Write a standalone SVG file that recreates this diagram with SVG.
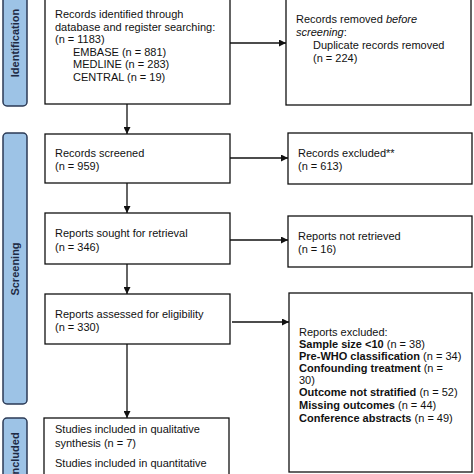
<svg xmlns="http://www.w3.org/2000/svg" width="474" height="474" viewBox="0 0 474 474">
<style>
.box{fill:#fff;stroke:#111;stroke-width:1.3}
.side{fill:#9dc3e6;stroke:#2b3a55;stroke-width:1.5}
.lbl{font-family:"Liberation Sans",Arial,sans-serif;font-size:11px;font-weight:bold;fill:#1e2a44;text-anchor:middle}
.t{font-family:"Liberation Sans",Arial,sans-serif;font-size:11px;fill:#111}
.b{font-weight:bold}
.con{stroke:#111;stroke-width:1.3;fill:none}
</style>
<defs>
<marker id="ah" viewBox="0 0 10 10" refX="10" refY="5" markerWidth="7" markerHeight="7" markerUnits="userSpaceOnUse" orient="auto">
<path d="M0,0 L10,5 L0,10 z" fill="#111"/>
</marker>
</defs>
<rect width="474" height="474" fill="#fff"/>
<g id="side-identification">
<rect class="side" x="3" y="-12" width="24" height="118" rx="4"/>
<text class="lbl" transform="translate(18.5,43) rotate(-90)">Identification</text>
</g>
<g id="side-screening">
<rect class="side" x="3" y="133" width="24" height="271" rx="4"/>
<text class="lbl" transform="translate(18.5,269) rotate(-90)">Screening</text>
</g>
<g id="side-included">
<rect class="side" x="3" y="418" width="24" height="70" rx="4"/>
<text class="lbl" transform="translate(18.5,455) rotate(-90)">Included</text>
</g>
<g id="identified">
<rect class="box" x="45" y="-5" width="185" height="109"/>
<text class="t" x="55" y="17.5">Records identified through</text>
<text class="t" x="55" y="30.5">database and register searching:</text>
<text class="t" x="55" y="43">(n = 1183)</text>
<text class="t" x="73" y="55.5">EMBASE (n = 881)</text>
<text class="t" x="73" y="68">MEDLINE (n = 283)</text>
<text class="t" x="73" y="80.5">CENTRAL (n = 19)</text>
</g>
<g id="removed">
<rect class="box" x="286" y="-5" width="185" height="110"/>
<text class="t" x="296" y="23">Records removed <tspan font-style="italic">before</tspan></text>
<text class="t" x="296" y="36"><tspan font-style="italic">screening</tspan>:</text>
<text class="t" x="313" y="49">Duplicate records removed</text>
<text class="t" x="313" y="62">(n = 224)</text>
</g>
<g id="screened">
<rect class="box" x="45" y="134" width="185" height="49"/>
<text class="t" x="55" y="157">Records screened</text>
<text class="t" x="55" y="170">(n = 959)</text>
</g>
<g id="excluded">
<rect class="box" x="288" y="133" width="184" height="51"/>
<text class="t" x="298" y="157">Records excluded**</text>
<text class="t" x="298" y="170">(n = 613)</text>
</g>
<g id="sought">
<rect class="box" x="45" y="213" width="185" height="51"/>
<text class="t" x="55" y="237">Reports sought for retrieval</text>
<text class="t" x="55" y="251">(n = 346)</text>
</g>
<g id="not-retrieved">
<rect class="box" x="288" y="216" width="184" height="51"/>
<text class="t" x="298" y="240">Reports not retrieved</text>
<text class="t" x="298" y="253">(n = 16)</text>
</g>
<g id="assessed">
<rect class="box" x="45" y="294" width="185" height="50"/>
<text class="t" x="55" y="318">Reports assessed for eligibility</text>
<text class="t" x="55" y="331">(n = 330)</text>
</g>
<g id="reports-excluded">
<rect class="box" x="289" y="293" width="183" height="179"/>
<text class="t" x="299" y="336">Reports excluded:</text>
<text class="t" x="299" y="347.5"><tspan class="b">Sample size &lt;10</tspan> (n = 38)</text>
<text class="t" x="299" y="359.5"><tspan class="b">Pre-WHO classification</tspan> (n = 34)</text>
<text class="t" x="299" y="372"><tspan class="b">Confounding treatment</tspan> (n =</text>
<text class="t" x="299" y="384">30)</text>
<text class="t" x="299" y="396"><tspan class="b">Outcome not stratified</tspan> (n = 52)</text>
<text class="t" x="299" y="408.5"><tspan class="b">Missing outcomes</tspan> (n = 44)</text>
<text class="t" x="299" y="421.5"><tspan class="b">Conference abstracts</tspan> (n = 49)</text>
</g>
<g id="included">
<rect class="box" x="44" y="418" width="185" height="70"/>
<text class="t" x="55" y="433">Studies included in qualitative</text>
<text class="t" x="55" y="447">synthesis (n = 7)</text>
<text class="t" x="55" y="467">Studies included in quantitative</text>
</g>
<g id="connectors">
<line class="con" x1="127" y1="104" x2="127" y2="134" marker-end="url(#ah)"/>
<line class="con" x1="127" y1="183" x2="127" y2="213" marker-end="url(#ah)"/>
<line class="con" x1="127" y1="264" x2="127" y2="294" marker-end="url(#ah)"/>
<line class="con" x1="127" y1="344" x2="127" y2="418" marker-end="url(#ah)"/>
<line class="con" x1="230" y1="43" x2="286" y2="43" marker-end="url(#ah)"/>
<line class="con" x1="230" y1="158" x2="288" y2="158" marker-end="url(#ah)"/>
<line class="con" x1="230" y1="240" x2="288" y2="240" marker-end="url(#ah)"/>
<line class="con" x1="232" y1="322" x2="289" y2="322" marker-end="url(#ah)"/>
</g>
</svg>
